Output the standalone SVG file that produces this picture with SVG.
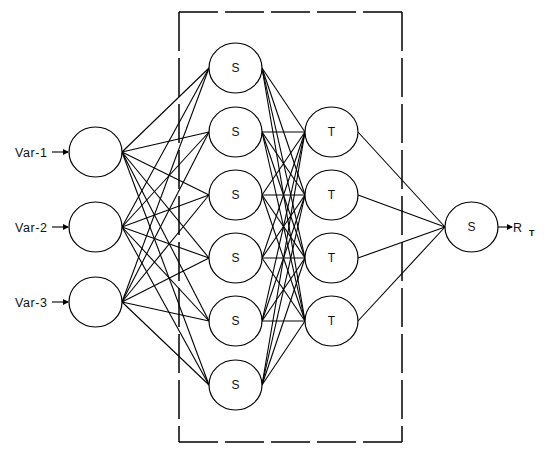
<svg xmlns="http://www.w3.org/2000/svg" width="550" height="453" viewBox="0 0 550 453">
<style>
.node{fill:#fff;stroke:#000;stroke-width:1.2}
.lbl{font-family:"Liberation Sans",Arial,sans-serif;font-size:12px;fill:#111;text-anchor:middle}
.var{font-family:"Liberation Sans",Arial,sans-serif;font-size:12.5px;fill:#111;letter-spacing:0.6px}
.c line{stroke:#000;stroke-width:1.1}
.box{stroke:#000;stroke-width:1.5;fill:none;stroke-dasharray:39 7}
</style>
<defs>
<marker id="ah" markerWidth="6" markerHeight="6" refX="5" refY="3" orient="auto" markerUnits="userSpaceOnUse">
<path d="M0,0 L6,3 L0,6 Z" fill="#000"/>
</marker>
</defs>
<rect width="550" height="453" fill="#fff"/>
<g id="box">
<line class="box" x1="179" y1="12" x2="402" y2="12"/>
<line class="box" x1="179" y1="442" x2="402" y2="442"/>
<line class="box" x1="179" y1="12" x2="179" y2="442"/>
<line class="box" x1="402" y1="12" x2="402" y2="442"/>
</g>
<g id="connectors" class="c">
<line x1="122" y1="152" x2="209" y2="68"/><line x1="122" y1="152" x2="209" y2="132"/><line x1="122" y1="152" x2="209" y2="195"/><line x1="122" y1="152" x2="209" y2="258"/><line x1="122" y1="152" x2="209" y2="321"/><line x1="122" y1="152" x2="209" y2="385"/>
<line x1="122" y1="227" x2="209" y2="68"/><line x1="122" y1="227" x2="209" y2="132"/><line x1="122" y1="227" x2="209" y2="195"/><line x1="122" y1="227" x2="209" y2="258"/><line x1="122" y1="227" x2="209" y2="321"/><line x1="122" y1="227" x2="209" y2="385"/>
<line x1="122" y1="302" x2="209" y2="68"/><line x1="122" y1="302" x2="209" y2="132"/><line x1="122" y1="302" x2="209" y2="195"/><line x1="122" y1="302" x2="209" y2="258"/><line x1="122" y1="302" x2="209" y2="321"/><line x1="122" y1="302" x2="209" y2="385"/>
<line x1="262" y1="68" x2="305" y2="132"/><line x1="262" y1="68" x2="305" y2="195"/><line x1="262" y1="68" x2="305" y2="258"/><line x1="262" y1="68" x2="305" y2="321"/>
<line x1="262" y1="132" x2="305" y2="132"/><line x1="262" y1="132" x2="305" y2="195"/><line x1="262" y1="132" x2="305" y2="258"/><line x1="262" y1="132" x2="305" y2="321"/>
<line x1="262" y1="195" x2="305" y2="132"/><line x1="262" y1="195" x2="305" y2="195"/><line x1="262" y1="195" x2="305" y2="258"/><line x1="262" y1="195" x2="305" y2="321"/>
<line x1="262" y1="258" x2="305" y2="132"/><line x1="262" y1="258" x2="305" y2="195"/><line x1="262" y1="258" x2="305" y2="258"/><line x1="262" y1="258" x2="305" y2="321"/>
<line x1="262" y1="321" x2="305" y2="132"/><line x1="262" y1="321" x2="305" y2="195"/><line x1="262" y1="321" x2="305" y2="258"/><line x1="262" y1="321" x2="305" y2="321"/>
<line x1="262" y1="385" x2="305" y2="132"/><line x1="262" y1="385" x2="305" y2="195"/><line x1="262" y1="385" x2="305" y2="258"/><line x1="262" y1="385" x2="305" y2="321"/>
<line x1="358" y1="132" x2="445" y2="227"/><line x1="358" y1="195" x2="445" y2="227"/><line x1="358" y1="258" x2="445" y2="227"/><line x1="358" y1="321" x2="445" y2="227"/>
<line x1="52" y1="152" x2="68" y2="152" marker-end="url(#ah)"/>
<line x1="52" y1="227" x2="68" y2="227" marker-end="url(#ah)"/>
<line x1="52" y1="302" x2="68" y2="302" marker-end="url(#ah)"/>
<line x1="498" y1="227" x2="512" y2="227" marker-end="url(#ah)"/>
</g>
<g id="in1"><ellipse class="node" cx="95.5" cy="152" rx="26.5" ry="25"/><text class="var" x="15" y="157">Var-1</text></g>
<g id="in2"><ellipse class="node" cx="95.5" cy="227" rx="26.5" ry="25"/><text class="var" x="15" y="232">Var-2</text></g>
<g id="in3"><ellipse class="node" cx="95.5" cy="302" rx="26.5" ry="25"/><text class="var" x="15" y="307">Var-3</text></g>
<g id="s1"><ellipse class="node" cx="235.5" cy="68" rx="26.5" ry="25"/><text class="lbl" x="235.5" y="72">S</text></g>
<g id="s2"><ellipse class="node" cx="235.5" cy="132" rx="26.5" ry="25"/><text class="lbl" x="235.5" y="136">S</text></g>
<g id="s3"><ellipse class="node" cx="235.5" cy="195" rx="26.5" ry="25"/><text class="lbl" x="235.5" y="199">S</text></g>
<g id="s4"><ellipse class="node" cx="235.5" cy="258" rx="26.5" ry="25"/><text class="lbl" x="235.5" y="262">S</text></g>
<g id="s5"><ellipse class="node" cx="235.5" cy="321" rx="26.5" ry="25"/><text class="lbl" x="235.5" y="325">S</text></g>
<g id="s6"><ellipse class="node" cx="235.5" cy="385" rx="26.5" ry="25"/><text class="lbl" x="235.5" y="389">S</text></g>
<g id="t1"><ellipse class="node" cx="331.5" cy="132" rx="26.5" ry="25"/><text class="lbl" x="331.5" y="136">T</text></g>
<g id="t2"><ellipse class="node" cx="331.5" cy="195" rx="26.5" ry="25"/><text class="lbl" x="331.5" y="199">T</text></g>
<g id="t3"><ellipse class="node" cx="331.5" cy="258" rx="26.5" ry="25"/><text class="lbl" x="331.5" y="262">T</text></g>
<g id="t4"><ellipse class="node" cx="331.5" cy="321" rx="26.5" ry="25"/><text class="lbl" x="331.5" y="325">T</text></g>
<g id="out"><ellipse class="node" cx="471.5" cy="227" rx="26.5" ry="25"/><text class="lbl" x="471.5" y="231">S</text></g>
<g id="rt"><text class="var" x="513" y="232">R</text><text class="var" x="529" y="236" style="font-size:9px;font-weight:bold">T</text></g>
</svg>
